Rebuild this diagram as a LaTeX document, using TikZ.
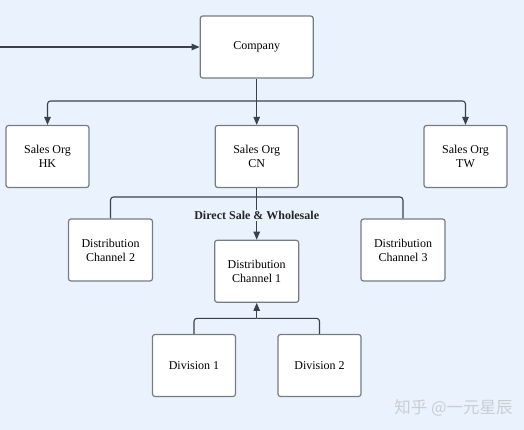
\documentclass[tikz,border=0pt]{standalone}
\usepackage{fontspec}
\setmainfont{Liberation Serif}
\newfontfamily\cjk{Noto Sans CJK SC}
\usetikzlibrary{arrows.meta}

\definecolor{bgblue}{RGB}{234,243,253}
\definecolor{boxedge}{RGB}{118,124,132}
\definecolor{wire}{RGB}{58,65,74}
\definecolor{wmgray}{RGB}{200,205,212}

\tikzset{
  unit/.style={draw=boxedge, line width=1.2pt, fill=white, rounded corners=2.5pt,
    minimum width=83pt, minimum height=62pt, align=center,
    font=\fontsize{12}{14}\selectfont},
  wirel/.style={draw=wire, line width=1.1pt},
  wirea/.style={wirel, -{Triangle[length=8pt,width=6.5pt]}},
  chanlbl/.style={fill=bgblue, inner sep=1pt, font=\bfseries\fontsize{12}{14}\selectfont, text=black!85},
}

\begin{document}
\begin{tikzpicture}[x=1pt, y=-1pt]
  \useasboundingbox[fill=bgblue] (0,0) rectangle (524,430);

  % top level
  \node[unit, minimum width=113pt] (company) at (256.7,47) {Company};
  \node[unit] (hk) at (47.5,156.5) {Sales Org\\HK};
  \node[unit] (cn) at (256.7,156.5) {Sales Org\\CN};
  \node[unit] (tw) at (465.5,156.5) {Sales Org\\TW};

  % channels
  \node[unit, minimum width=84pt] (dc2) at (110.5,250) {Distribution\\Channel 2};
  \node[unit, minimum width=84pt] (dc1) at (256.7,271.3) {Distribution\\Channel 1};
  \node[unit, minimum width=84pt] (dc3) at (403,250) {Distribution\\Channel 3};

  % divisions
  \node[unit] (div1) at (194,365.5) {Division 1};
  \node[unit] (div2) at (319.5,365.5) {Division 2};

  \coordinate (src) at (0,47);
  \coordinate (orgsplit) at (256.7,101);
  \coordinate (chsplit) at (256.7,197);
  \coordinate (divsplit) at (256.7,318.3);

  \draw[wirea] (src) -- (company);
  \draw[wirea] (company) -- (cn);
  \draw[wirea, rounded corners=3pt] (orgsplit) -| (hk);
  \draw[wirea, rounded corners=3pt] (orgsplit) -| (tw);

  \draw[wirel, rounded corners=3pt] (chsplit) -| (dc2);
  \draw[wirel, rounded corners=3pt] (chsplit) -| (dc3);
  \draw[wirea] (cn) -- (dc1)
    node[chanlbl, pos=0.53] {Direct Sale \& Wholesale};

  \draw[wirel, rounded corners=3pt] (divsplit) -| (div1);
  \draw[wirel, rounded corners=3pt] (divsplit) -| (div2);
  \draw[wirea] (divsplit) -- (dc1);

  \node[text=wmgray, font=\cjk\fontsize{16.5}{18}\selectfont] (wm) at (453.5,407.5) {知乎 @一元星辰};
\end{tikzpicture}
\end{document}
